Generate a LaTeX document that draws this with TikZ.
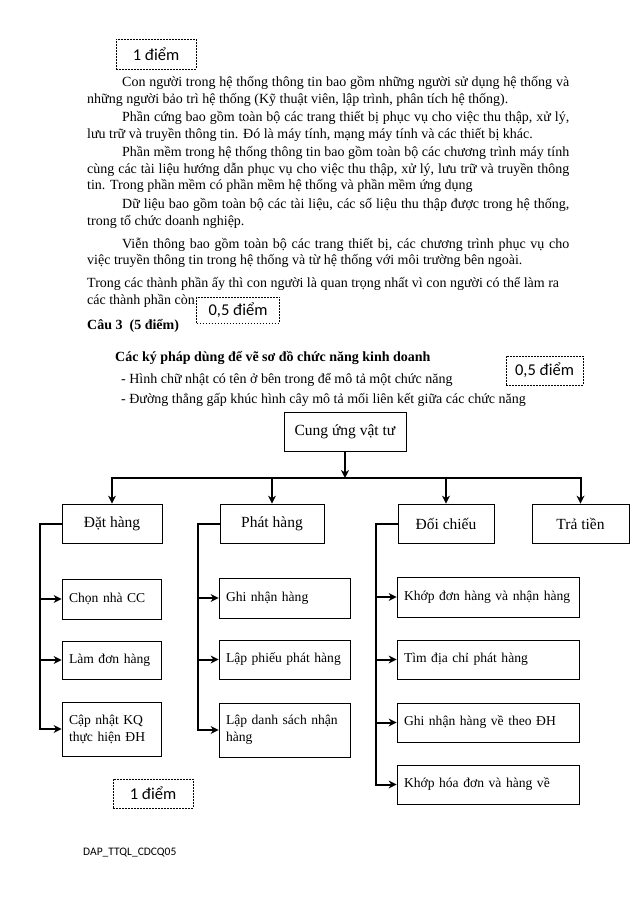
\documentclass[tikz,border=0pt]{standalone}
\usepackage{fontspec}
\setmainfont{Liberation Serif}
\newfontfamily\calib{Carlito}
\usetikzlibrary{arrows.meta,positioning}

\newcommand{\bodyfont}{\fontsize{14}{17}\selectfont}
\newcommand{\jline}[2]{\makebox[#1][s]{#2}}

\begin{document}
\begin{tikzpicture}[x=1pt, y=-1pt,
  txt/.style={anchor=base west, inner sep=0pt, font=\bodyfont},
  bold/.style={txt, font=\bodyfont\bfseries},
  score/.style={draw, dash pattern=on 1.6pt off 1.4pt, line width=0.7pt, inner sep=0pt, font={\calib\fontsize{16.5}{18}\selectfont}},
  topbox/.style={draw, line width=0.7pt, inner sep=0pt, minimum height=39pt, font={\fontsize{15.5}{18}\selectfont}},
  subbox/.style={draw, line width=0.7pt, inner xsep=7pt, inner ysep=0pt, align=left, font={\fontsize{13.6}{17}\selectfont}},
  link/.style={line width=2pt},
  arr/.style={line width=2pt, -{Stealth[length=8pt,width=8pt,inset=2.5pt]}},
]
\useasboundingbox (0,0) rectangle (638,901);
\fill[white] (0,0) rectangle (638,901);

% text of the page
\node[score, minimum width=80pt, minimum height=30pt] (s1) at (156,54) {1 điểm};
\node[txt] (l1) at (122,86.5) {\jline{447pt}{Con người trong hệ thống thông tin bao gồm những người sử dụng hệ thống và}};
\node[txt] (l2) at (87,104) {những người bảo trì hệ thống (Kỹ thuật viên, lập trình, phân tích hệ thống).};
\node[txt] (l3) at (122,122) {\jline{447pt}{Phần cứng bao gồm toàn bộ các trang thiết bị phục vụ cho việc thu thập, xử lý,}};
\node[txt] (l4) at (87,139) {lưu trữ và truyền thông tin. Đó là máy tính, mạng máy tính và các thiết bị khác.};
\node[txt] (l5) at (122,157) {\jline{447pt}{Phần mềm trong hệ thống thông tin bao gồm toàn bộ các chương trình máy tính}};
\node[txt] (l6) at (87,173.5) {\jline{482pt}{cùng các tài liệu hướng dẫn phục vụ cho việc thu thập, xử lý, lưu trữ và truyền thông}};
\node[txt] (l7) at (87,190) {tin. Trong phần mềm có phần mềm hệ thống và phần mềm ứng dụng};
\node[txt] (l8) at (122,209) {\jline{447pt}{Dữ liệu bao gồm toàn bộ các tài liệu, các số liệu thu thập được trong hệ thống,}};
\node[txt] (l9) at (87,225.5) {trong tổ chức doanh nghiệp.};
\node[txt] (l10) at (122,248.5) {\jline{447pt}{Viễn thông bao gồm toàn bộ các trang thiết bị, các chương trình phục vụ cho}};
\node[txt] (l11) at (87,264.5) {việc truyền thông tin trong hệ thống và từ hệ thống với môi trường bên ngoài.};
\node[txt] (l12) at (87,287) {Trong các thành phần ấy thì con người là quan trọng nhất vì con người có thể làm ra};
\node[txt] (l13) at (87,304) {các thành phần còn};
\node[score, minimum width=83pt, minimum height=26pt] (s2) at (238,310) {0,5 điểm};
\node[bold] (q3) at (87,329) {Câu 3\ \ (5 điểm)};
\node[bold] (h1) at (115,361) {Các ký pháp dùng để vẽ sơ đồ chức năng kinh doanh};
\node[txt] (h2) at (121,383) {- Hình chữ nhật có tên ở bên trong để mô tả một chức năng};
\node[txt] (h3) at (121,403) {- Đường thẳng gấp khúc hình cây mô tả mối liên kết giữa các chức năng};
\node[score, minimum width=77pt, minimum height=29pt] (s3) at (544.5,370.5) {0,5 điểm};

% function tree
\node[topbox, minimum width=122pt] (root) at (345,431.5) {Cung ứng vật tư};
\node[topbox, minimum width=100pt] (dat) at (112,523.5) {Đặt hàng};
\node[topbox, minimum width=104pt] (phat) at (272,523.5) {Phát hàng};
\node[topbox, minimum width=96pt] (doi) at (446,523.5) {Đối chiếu};
\node[topbox, minimum width=97pt] (tra) at (580.5,523.5) {Trả tiền};

\node[subbox, text width=85pt, minimum height=40pt] (c11) at (111.5,599) {Chọn nhà CC};
\node[subbox, text width=85pt, minimum height=38pt] (c12) at (111.5,660) {Làm đơn hàng};
\node[subbox, text width=85pt, minimum height=54pt] (c13) at (111.5,729) {Cập nhật KQ\\thực hiện ĐH};

\node[subbox, text width=117pt, minimum height=40pt] (c21) at (284.5,598) {Ghi nhận hàng};
\node[subbox, text width=117pt, minimum height=39pt] (c22) at (284.5,659.5) {Lập phiếu phát hàng};
\node[subbox, text width=117pt, minimum height=54pt] (c23) at (284.5,730) {Lập danh sách nhận\\hàng};

\node[subbox, text width=168pt, minimum height=40pt] (c31) at (488,597) {Khớp đơn hàng và nhận hàng};
\node[subbox, text width=168pt, minimum height=39pt] (c32) at (488,659.5) {Tìm địa chỉ phát hàng};
\node[subbox, text width=168pt, minimum height=39pt] (c33) at (488,722.5) {Ghi nhận hàng về theo ĐH};
\node[subbox, text width=168pt, minimum height=39pt] (c34) at (488,784.5) {Khớp hóa đơn và hàng về};

\coordinate (bus) at (345,478);
\coordinate (t1) at (40,0);
\coordinate (t2) at (198,0);
\coordinate (t3) at (376,0);

\draw[arr] (root.south) -- (bus);
\draw[arr] (bus) -| (dat.north);
\draw[arr] (bus) -| (tra.north);
\draw[arr] (bus -| phat) -- (phat.north);
\draw[arr] (bus -| doi) -- (doi.north);

\draw[arr] (dat.west) -- (dat.west -| t1) |- (c13.west);
\foreach \c in {c11,c12}
  \draw[arr] (\c.west -| t1) -- (\c.west);
\draw[arr] (phat.west) -- (phat.west -| t2) |- (c23.west);
\foreach \c in {c21,c22}
  \draw[arr] (\c.west -| t2) -- (\c.west);
\draw[arr] (doi.west) -- (doi.west -| t3) |- (c34.west);
\foreach \c in {c31,c32,c33}
  \draw[arr] (\c.west -| t3) -- (\c.west);

\node[score, minimum width=80pt, minimum height=29pt] (s4) at (153,793.5) {1 điểm};
\node[anchor=west, inner sep=0pt, font={\calib\fontsize{11.5}{13}\selectfont}] (foot) at (83,853) {DAP\_TTQL\_CDCQ05};
\end{tikzpicture}
\end{document}
